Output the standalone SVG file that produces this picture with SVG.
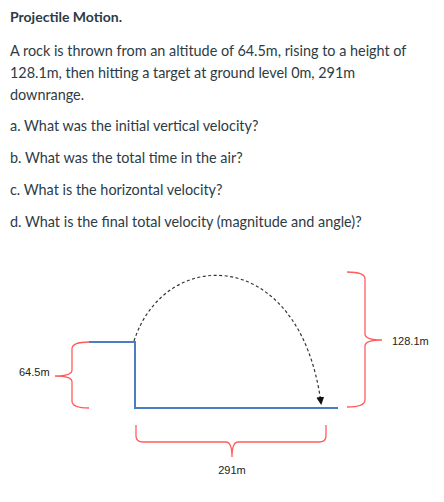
<svg xmlns="http://www.w3.org/2000/svg" width="444" height="502" viewBox="0 0 444 502">
<style>
.t{font-family:Lato,"Noto Sans","Liberation Sans",sans-serif;font-size:14.4px;fill:#2d3b45}
.b{font-weight:bold;font-size:14px}
.lbl{font-family:"Liberation Sans",Arial,sans-serif;font-size:11px;fill:#222}
.blue{fill:none;stroke:#4a7ebf;stroke-width:2}
.brace{fill:none;stroke:#ff5c5c;stroke-width:1.3}
.traj{fill:none;stroke:#333;stroke-width:1.2;stroke-dasharray:3 2.5}
</style>
<defs>
<marker id="ah" markerWidth="8" markerHeight="8" refX="6" refY="4" orient="auto" markerUnits="userSpaceOnUse">
<path d="M0,0 L8,4 L0,8 z" fill="#111"/>
</marker>
</defs>
<rect width="444" height="502" fill="#fff"/>
<g id="text">
<text class="t b" x="10" y="22">Projectile Motion.</text>
<text class="t" x="10" y="56">A rock is thrown from an altitude of 64.5m, rising to a height of</text>
<text class="t" x="10" y="78">128.1m, then hitting a target at ground level 0m, 291m</text>
<text class="t" x="10" y="100">downrange.</text>
<text class="t" x="10" y="131">a. What was the initial vertical velocity?</text>
<text class="t" x="10" y="163">b. What was the total time in the air?</text>
<text class="t" x="10" y="195">c. What is the horizontal velocity?</text>
<text class="t" x="10" y="227">d. What is the final total velocity (magnitude and angle)?</text>
</g>
<g id="terrain">
<path class="blue" d="M89,342 L135,342 L135,408 L338,408"/>
</g>
<g id="connectors">
<path id="trajectory" class="traj" d="M134,341 C165,245 300,245 321,403" marker-end="url(#ah)"/>
</g>
<g id="brace-64">
<path class="brace" d="M89,342 Q72,342 72,349 L72,370 Q72,376 55,376 Q72,376 72,382 L72,401 Q72,408 89,408"/>
<text class="lbl" x="19" y="376">64.5m</text>
</g>
<g id="brace-128">
<path class="brace" d="M347,272 Q365,272 365,279 L365,334 Q365,340 382,340 Q365,340 365,346 L365,400 Q365,407 347,407"/>
<text class="lbl" x="392" y="345">128.1m</text>
</g>
<g id="brace-291">
<path class="brace" d="M136,425 L136,436 Q136,442 143,442 L226,442 Q232,442 232,457 Q232,442 238,442 L319,442 Q326,442 326,436 L326,425"/>
<text class="lbl" x="232" y="474" text-anchor="middle">291m</text>
</g>
</svg>
